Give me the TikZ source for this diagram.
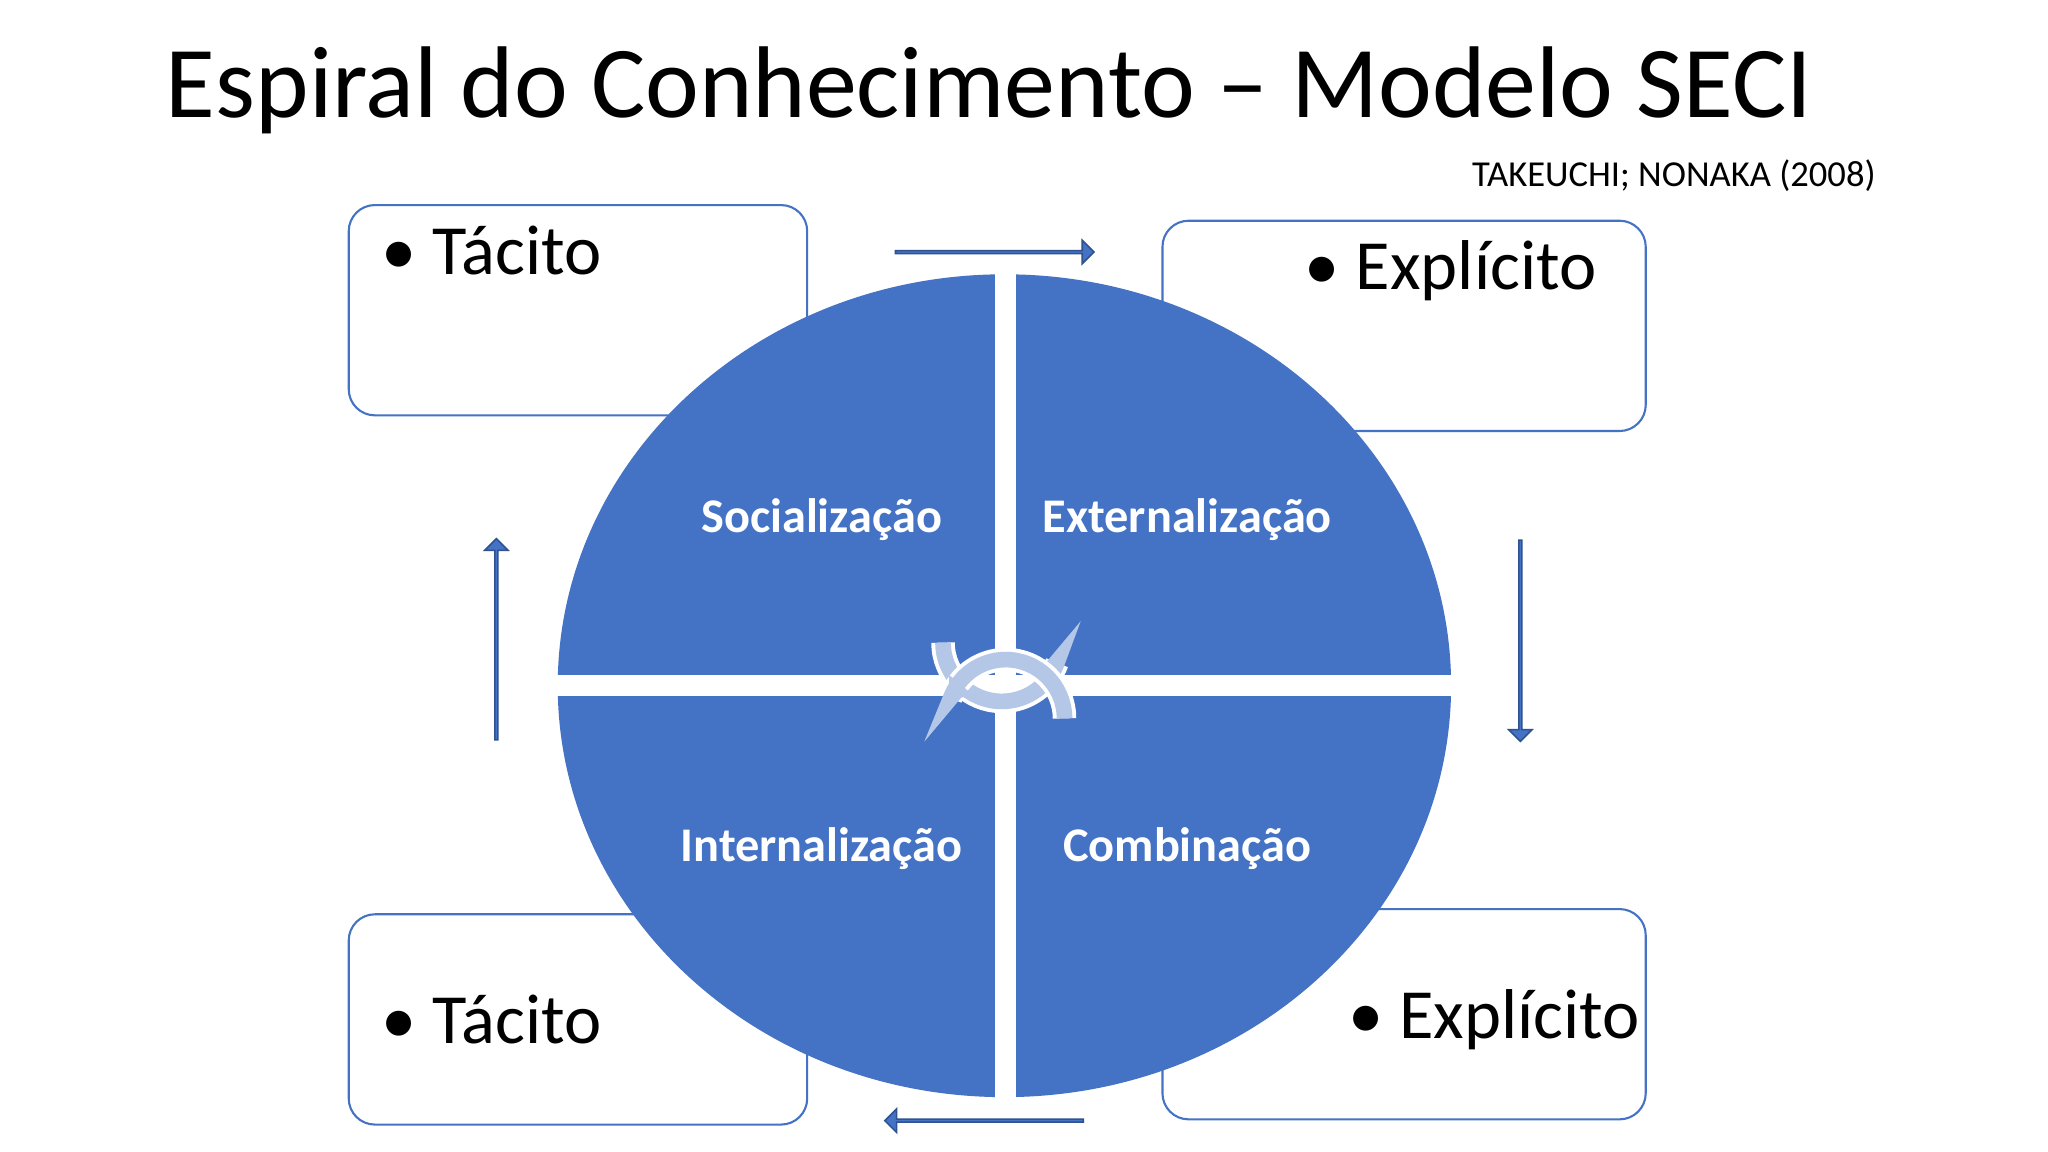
\documentclass[tikz,border=0pt]{standalone}
\usepackage{fontspec}
\setmainfont{Carlito}
\usetikzlibrary{shapes.arrows,arrows.meta}
\definecolor{seci}{HTML}{4472C4}
\definecolor{secid}{HTML}{2F528F}
\definecolor{cyc}{HTML}{B4C7E7}
\begin{document}
\begin{tikzpicture}[x=0.5pt,y=-0.5pt,
  box/.style={draw=seci,line width=0.8pt,fill=white,rounded corners=10pt},
  btxt/.style={anchor=base west,font=\fontsize{27}{30}\selectfont},
  qlab/.style={text=white,font=\bfseries\fontsize{18.5}{20}\selectfont},
  flow/.style={single arrow,draw=secid,fill=seci,line width=0.6pt,minimum width=9pt,single arrow head extend=2pt,single arrow head indent=0pt,inner sep=0pt},
  cyca/.style={line width=6pt,cyc,-{Triangle[width=12pt,length=7pt]}}]
\useasboundingbox (0,0) rectangle (1568,882);
\fill[white] (0,0) rectangle (1568,882);
\node[anchor=base west,font=\fontsize{39}{44}\selectfont] (title) at (120,90) {Espiral do Conhecimento – Modelo SECI};
\node[anchor=base east,font=\fontsize{14}{16}\selectfont] (ref) at (1443,143) {TAKEUCHI; NONAKA (2008)};
% boxes
\draw[box] (267,157) rectangle (618,318);
\draw[box] (890,169) rectangle (1260,330);
\draw[box] (267,700) rectangle (618,861);
\draw[box] (890,696) rectangle (1260,857);
\node[btxt] (t1) at (285,210) {• Tácito};
\node[btxt] (e1) at (992,222) {• Explícito};
\node[btxt] (t2) at (285,799) {• Tácito};
\node[btxt] (e2) at (1025,795) {• Explícito};
% circle
\fill[seci] (769,525) ellipse [x radius=342,y radius=315];
\fill[white] (762,200) rectangle (778,850);
\fill[white] (420,517) rectangle (1120,533);
\node[qlab] (s) at (629,398) {Socialização};
\node[qlab] (x) at (909,398) {Externalização};
\node[qlab] (i) at (629,650) {Internalização};
\node[qlab] (c) at (909,650) {Combinação};
% cycle arrows
\draw[line width=9pt,white] (722,492) arc[start angle=180,end angle=20,radius=45];
\draw[cyca] (722,492) arc[start angle=180,end angle=18,radius=45] -- ++(-50:1);
\draw[line width=9pt,white] (815,550) arc[start angle=0,end angle=-160,radius=45];
\draw[cyca] (815,550) arc[start angle=0,end angle=-160,radius=45] -- ++(130:1);
% flow arrows
\node[flow,minimum height=76pt] (ar) at (761,193) {};
\node[flow,minimum height=77pt,shape border rotate=270] (ad) at (1164,490) {};
\node[flow,minimum height=76pt,shape border rotate=180] (al) at (754,858) {};
\node[flow,minimum height=77pt,shape border rotate=90] (au) at (380,490) {};
\end{tikzpicture}
\end{document}
